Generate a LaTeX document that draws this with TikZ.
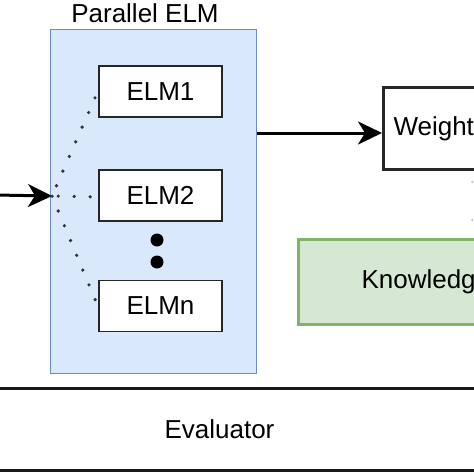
\documentclass[tikz,border=0pt]{standalone}
\usepackage{fontspec}
\setmainfont{Liberation Sans}
\usetikzlibrary{arrows.meta}
\definecolor{bluefill}{HTML}{DAE8FC}
\definecolor{blueline}{HTML}{6C8EBF}
\definecolor{greenfill}{HTML}{D5E8D4}
\definecolor{greenline}{HTML}{82B366}
\tikzset{
  lbl/.style={font=\fontsize{26}{30}\selectfont, inner sep=0pt},
  elmbox/.style={lbl, draw=black!85, line width=1.6pt, fill=white, minimum width=123pt, minimum height=51pt},
  bigarrow/.style={line width=3pt, -{Stealth[length=24pt,width=23pt,inset=7pt]}},
  dotline/.style={line width=3.6pt, line cap=round, dash pattern=on 0pt off 16pt, dash phase=8pt, black!80},
}
\begin{document}
\begin{tikzpicture}[x=1pt,y=-1pt]
\clip (0,0) rectangle (474,474);
\fill[white] (0,0) rectangle (474,474);
% parallel ELM container
\node[lbl, anchor=center] (ptitle) at (145,13) {Parallel ELM};
\node[draw=blueline, fill=bluefill, line width=1.2pt, anchor=north west, minimum width=206pt, minimum height=344pt, inner sep=0pt] (pbox) at (50,29) {};
\node[elmbox] (elm1) at (160.5,91.5) {ELM1};
\node[elmbox] (elm2) at (160.5,195.5) {ELM2};
\node[elmbox] (elmn) at (160.5,306) {ELMn};
\fill (157,240) circle (6.5);
\fill (157,262) circle (6.5);
% input arrow and fan
\coordinate (src) at (-5,195);
\coordinate (jn) at (52,196);
\draw[bigarrow] (src) -- (jn);
\draw[dotline] ([yshift=1pt]elm1.west) -- (jn);
\draw[dotline] ([yshift=-1.5pt]elm2.west) -- (jn);
\draw[dotline] ([yshift=-1pt]elmn.west) -- (jn);
% weight box
\node[lbl, draw=black!85, line width=3pt, fill=white, anchor=north west, inner xsep=10pt, minimum height=82pt, text width=160pt, align=left] (weight) at (382,86) {Weight};
\draw[bigarrow] (pbox.east |- 0,133) -- (weight.west |- 0,133);
% knowledge box
\node[lbl, draw=greenline, line width=3pt, fill=greenfill, anchor=north west, inner xsep=63pt, minimum height=85pt, text width=160pt, align=left] (know) at (297,238) {Knowledg};
\coordinate (wd) at (472,182);
\coordinate (kd) at (472,236);
\draw[line width=1.5pt, line cap=round, dash pattern=on 0pt off 38pt, black!55] (wd) -- (kd);
% evaluator
\node[lbl, draw=black!90, line width=3pt, fill=white, minimum width=640pt, minimum height=82pt] (eval) at (219.5,429) {Evaluator};
\end{tikzpicture}
\end{document}
